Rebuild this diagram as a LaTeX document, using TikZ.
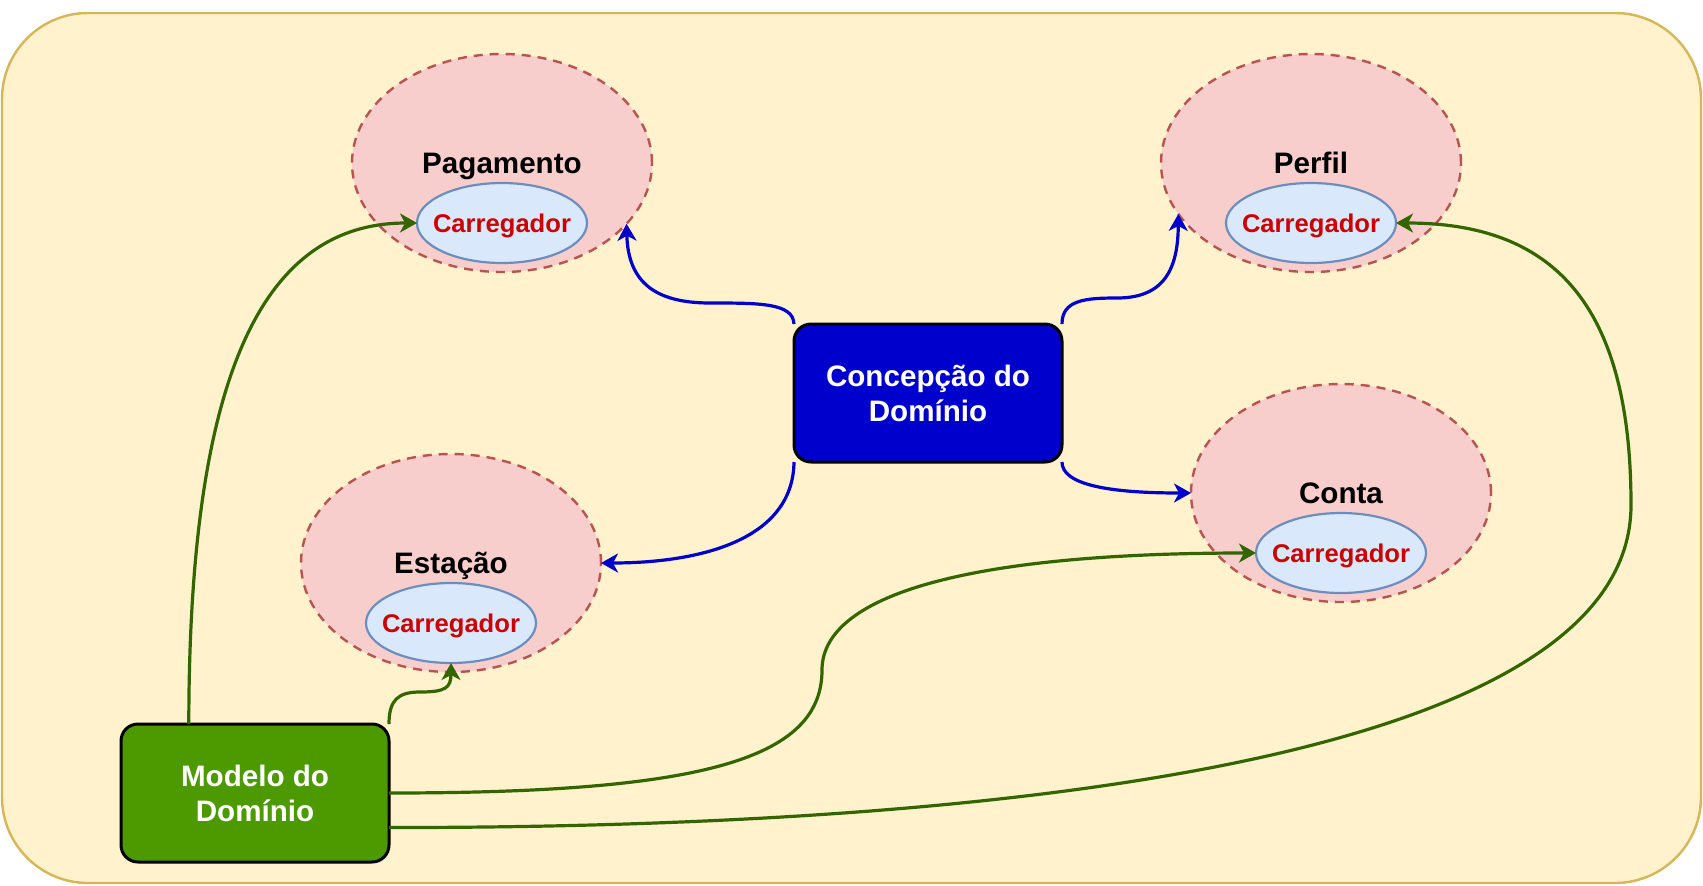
\documentclass[tikz,border=0pt]{standalone}
\usepackage{fontspec}
\setmainfont{Liberation Sans}
\usetikzlibrary{arrows.meta,shapes.geometric,calc}
\definecolor{bgfill}{HTML}{FFF2CC}
\definecolor{bgline}{HTML}{D6B656}
\definecolor{pinkfill}{HTML}{F8CECC}
\definecolor{pinkline}{HTML}{B85450}
\definecolor{ldrfill}{HTML}{DAE8FC}
\definecolor{ldrline}{HTML}{6C8EBF}
\definecolor{concfill}{HTML}{0000CC}
\definecolor{modfill}{HTML}{4D9900}
\definecolor{bluearr}{HTML}{0000CC}
\definecolor{greenarr}{HTML}{336600}
\definecolor{ldrtext}{HTML}{CC0000}
\tikzset{
  ctx/.style={ellipse, draw=pinkline, fill=pinkfill, line width=1.2pt,
    dash pattern=on 4.5pt off 3.5pt, minimum width=150pt, minimum height=109pt,
    inner sep=0pt, outer sep=0pt},
  ldr/.style={ellipse, draw=ldrline, fill=ldrfill, line width=1.1pt,
    minimum width=85pt, minimum height=40pt, inner sep=0pt, outer sep=0pt},
  ldrt/.style={text=ldrtext, font=\bfseries\fontsize{12.8}{15}\selectfont,
    inner sep=0pt, text height=9.16pt, text depth=0pt},
  ttl/.style={font=\bfseries\fontsize{14.8}{17.5}\selectfont, text=black,
    inner sep=0pt, text height=10.6pt, text depth=0pt},
  mainbox/.style={draw=black, line width=1.5pt, rounded corners=8.5pt,
    minimum width=134pt, minimum height=69pt, inner sep=0pt, outer sep=0pt,
    text=white, align=center, font=\bfseries\fontsize{14.8}{17.5}\selectfont},
  bconn/.style={draw=bluearr, line width=1.6pt,
    -{Stealth[length=8.5pt,width=9.5pt,inset=2.5pt]}},
  gconn/.style={draw=greenarr, line width=1.6pt,
    -{Stealth[length=8.5pt,width=9.5pt,inset=2.5pt]}},
}
\begin{document}
\begin{tikzpicture}[x=0.5pt,y=-0.5pt]
\useasboundingbox (0,0) rectangle (1703,885);
\draw[fill=bgfill, draw=bgline, line width=1.2pt, rounded corners=43pt]
  (2,13) rectangle (1701,883);

% context ellipses
\node[ctx] (pag) at (502,163) {};
\node[ctx] (perf) at (1311,163) {};
\node[ctx] (conta) at (1341,493) {};
\node[ctx] (est) at (451,563) {};

\node[ttl] (pagt) at (502,163) {Pagamento};
\node[ttl] (perft) at (1311,163) {Perfil};
\node[ttl] (contat) at (1341,493) {Conta};
\node[ttl] (estt) at (451,563) {Estação};

\node[ldr] (pc) at (502,223) {};
\node[ldr] (fc) at (1311,223) {};
\node[ldr] (cc) at (1341,553) {};
\node[ldr] (ec) at (451,623) {};
\node[ldrt] (pct) at (pc) {Carregador};
\node[ldrt] (fct) at (fc) {Carregador};
\node[ldrt] (cct) at (cc) {Carregador};
\node[ldrt] (ect) at (ec) {Carregador};

% main boxes
\node[mainbox, fill=concfill] (conc) at (928,393) {Concepção do\\Domínio};
\node[mainbox, fill=modfill] (mod) at (255,793) {Modelo do\\Domínio};

% blue connectors
\draw[bconn] (conc.north west) .. controls (793,303) and (760,303) .. (710,303)
  .. controls (655,303) and (628,282) .. (pag.-26);
\draw[bconn] (conc.north east) .. controls (1062,300) and (1085,298) .. (1117,298)
  .. controls (1165,298) and (1178,268) .. (perf.201);
\draw[bconn] (conc.south west) .. controls (793,540) and (700,563) .. (est.east);
\draw[bconn] (conc.south east) .. controls (1062,485) and (1110,493) .. (conta.west);

% green connectors
\draw[gconn] ($(mod.north west)!0.253!(mod.north east)$)
  .. controls (189,380) and (260,223) .. (pc.west);
\draw[gconn] (mod.north east) .. controls (389,700) and (398,692) .. (420,692)
  .. controls (445,692) and (451,688) .. (ec.south);
\draw[gconn] (mod.east) .. controls (700,793) and (822,760) .. (822,670)
  .. controls (822,600) and (950,553) .. (cc.west);
\draw[gconn] ($(mod.north east)!0.75!(mod.south east)$)
  .. controls (1000,828) and (1631,760) .. (1631,505)
  .. controls (1631,300) and (1550,223) .. (fc.east);
\end{tikzpicture}
\end{document}
